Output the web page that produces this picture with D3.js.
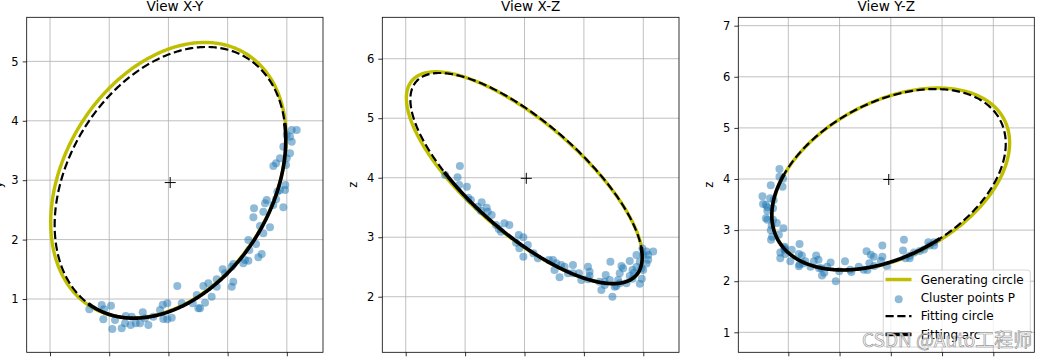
<!DOCTYPE html>
<html><head><meta charset="utf-8">
<script src="https://cdn.jsdelivr.net/npm/d3@7"></script>
<style>body{margin:0;background:#fff} svg{display:block;font-family:"DejaVu Sans",sans-serif}</style>
</head><body>
<svg id="c" width="1042" height="359"></svg>
<script>
// ---------- data ----------
const titles = ["View X-Y", "View X-Z", "View Y-Z"];
const axisLabels = ["y", "z", "z"];
const xTicks = [1, 2, 3, 4, 5];
const yTicks1 = [1, 2, 3, 4, 5];
const yTicks2 = [2, 3, 4, 5, 6];
const yTicks3 = [1, 2, 3, 4, 5, 6, 7];
const legendLabels = ["Generating circle", "Cluster points P", "Fitting circle", "Fitting arc"];
const watermark = "CSDN @Auto工程师";

// generating circle (3D): centre, radius, normal
const genCenter = [3.0, 3.0, 4.0];
const genRadius = 2.5;
const genNormal = [0.606, -0.374, 0.702];
// fitted circle (3D)
const fitCenter = [3.03, 2.96, 3.99];
const fitRadius = 2.465;
const fitNormal = [0.61, -0.377, 0.695];
// fitted arc: start, a point inside the arc, end
const arcStart = [1.62, 0.92, 4.07];
const arcMid = [3.0, 0.68, 2.9];
const arcEnd = [4.97, 3.98, 2.80];

// cluster points P (3D)
const pointsX = [1.664,1.873,1.900,1.912,2.030,2.052,2.098,2.211,2.267,2.279,2.363,2.380,2.448,2.520,2.566,2.605,2.661,2.745,2.858,2.904,2.914,2.981,2.981,3.056,3.150,3.225,3.410,3.478,3.505,3.534,3.590,3.618,3.674,3.731,3.816,3.816,3.917,3.956,4.069,4.069,4.096,4.096,4.265,4.294,4.350,4.350,4.367,4.435,4.446,4.480,4.519,4.547,4.576,4.603,4.603,4.632,4.660,4.716,4.772,4.772,4.818,4.818,4.840,4.885,4.885,4.941,4.941,4.970,4.975,4.986,4.998,4.998,5.054,5.054,5.083,5.083,5.167];
const pointsY = [0.827,0.899,0.658,0.827,0.887,0.495,0.646,0.507,0.591,0.714,0.562,0.702,0.591,0.591,0.776,0.675,0.562,0.702,0.815,0.904,0.663,0.928,0.658,0.685,1.219,0.928,0.928,1.067,0.843,0.843,1.219,0.938,1.264,1.039,1.332,1.207,1.500,1.433,1.544,1.207,1.589,1.291,1.601,1.657,1.645,1.993,1.825,2.375,2.527,1.926,1.702,2.229,1.758,2.106,2.470,2.611,2.667,2.207,2.582,3.239,2.678,3.285,2.806,2.835,3.369,2.544,3.564,2.835,2.919,3.256,3.369,3.761,3.453,3.732,3.648,3.845,3.845];
const pointsZ = [4.045,4.007,3.877,4.197,3.849,3.664,3.625,3.513,3.445,3.587,3.496,3.429,3.373,3.205,3.138,3.092,3.234,3.205,2.908,3.037,2.813,2.672,2.998,2.869,2.729,2.645,2.617,2.617,2.449,2.561,2.326,2.533,2.504,2.393,2.393,2.533,2.393,2.281,2.504,2.292,2.420,2.348,2.252,2.113,2.252,2.197,2.365,2.281,2.588,2.000,2.168,2.180,2.281,2.393,2.225,2.516,2.477,2.225,2.350,2.600,2.300,2.450,2.400,2.700,2.500,2.220,2.590,2.480,2.300,2.810,2.450,2.700,2.560,2.760,2.620,2.700,2.760];

// view limits (data units)
const xDomains = [[0.606, 5.611], [0.606, 5.601], [0.024, 5.800]];
const yDomains = [[0.103, 5.742], [1.066, 6.696], [0.609, 7.164]];
const yTickSets = [yTicks1, yTicks2, yTicks3];

// ---------- geometry helpers ----------
const sub = (a, b) => a.map((v, i) => v - b[i]);
const dot = (a, b) => a[0]*b[0] + a[1]*b[1] + a[2]*b[2];
const cross = (a, b) => [a[1]*b[2]-a[2]*b[1], a[2]*b[0]-a[0]*b[2], a[0]*b[1]-a[1]*b[0]];
const norm = a => { const l = Math.hypot(...a); return a.map(v => v / l); };
function basis(n) {
  n = norm(n);
  const u = norm(cross(n, [0, 0, 1]));
  const v = cross(n, u);
  return [u, v];
}
function circlePts(c, r, n, t0, t1, N) {
  const [u, v] = basis(n);
  return d3.range(N + 1).map(i => {
    const t = t0 + (t1 - t0) * i / N;
    return [0, 1, 2].map(k => c[k] + r * (u[k] * Math.cos(t) + v[k] * Math.sin(t)));
  });
}
function angleOf(p, c, n) {
  const [u, v] = basis(n);
  const d = sub(p, c);
  return Math.atan2(dot(d, v), dot(d, u));
}
const TAU = 2 * Math.PI;
const mod = a => ((a % TAU) + TAU) % TAU;
const genPts = circlePts(genCenter, genRadius, genNormal, 0, TAU, 500);
const fitPts = circlePts(fitCenter, fitRadius, fitNormal, 0, TAU, 500);
const ts = angleOf(arcStart, fitCenter, fitNormal);
const tm = angleOf(arcMid, fitCenter, fitNormal);
const te = angleOf(arcEnd, fitCenter, fitNormal);
const d1 = mod(te - ts), dm = mod(tm - ts);
const arcPts = dm < d1 ? circlePts(fitCenter, fitRadius, fitNormal, ts, ts + d1, 300)
                       : circlePts(fitCenter, fitRadius, fitNormal, ts, ts - (TAU - d1), 300);
const cloud = pointsX.map((x, i) => [x, pointsY[i], pointsZ[i]]);

// ---------- layout ----------
const svg = d3.select("#c");
const panels = [
  {left: 26.7, right: 323.0},
  {left: 382.3, right: 679.0},
  {left: 738.3, right: 1034.3}
];
const plotTop = 17.3, plotBottom = 352.3;
const views = [[0, 1], [0, 2], [1, 2]];
const yellow = "#bfbf00";
const blue = "#1f77b4";

panels.forEach((p, k) => {
  const [ia, ib] = views[k];
  const x = d3.scaleLinear().domain(xDomains[k]).range([p.left, p.right]);
  const y = d3.scaleLinear().domain(yDomains[k]).range([plotBottom, plotTop]);
  const g = svg.append("g");
  const clipId = "clip" + k;
  svg.append("clipPath").attr("id", clipId).append("rect")
    .attr("x", p.left).attr("y", plotTop).attr("width", p.right - p.left).attr("height", plotBottom - plotTop);

  // grid
  g.append("g").selectAll("line").data(xTicks).join("line")
    .attr("x1", d => x(d)).attr("x2", d => x(d)).attr("y1", plotTop).attr("y2", plotBottom)
    .attr("stroke", "#b0b0b0").attr("stroke-width", 0.8);
  g.append("g").selectAll("line").data(yTickSets[k]).join("line")
    .attr("x1", p.left).attr("x2", p.right).attr("y1", d => y(d)).attr("y2", d => y(d))
    .attr("stroke", "#b0b0b0").attr("stroke-width", 0.8);

  const plot = g.append("g").attr("clip-path", `url(#${clipId})`);
  const line = d3.line().x(d => x(d[ia])).y(d => y(d[ib]));

  plot.append("path").attr("d", line(genPts)).attr("fill", "none")
    .attr("stroke", yellow).attr("stroke-width", 3.4);
  plot.append("g").selectAll("circle").data(cloud).join("circle")
    .attr("cx", d => x(d[ia])).attr("cy", d => y(d[ib])).attr("r", 4)
    .attr("fill", blue).attr("fill-opacity", 0.5);
  plot.append("path").attr("d", line(fitPts)).attr("fill", "none")
    .attr("stroke", "#000").attr("stroke-width", 2.2).attr("stroke-dasharray", "8.2,3.6");
  plot.append("path").attr("d", line(arcPts)).attr("fill", "none")
    .attr("stroke", "#000").attr("stroke-width", 3.6).attr("stroke-linecap", "butt");
  // centre marker
  const cx = x(fitCenter[ia]), cy = y(fitCenter[ib]);
  plot.append("path").attr("d", `M${cx-5.5},${cy}H${cx+5.5}M${cx},${cy-5.5}V${cy+5.5}`)
    .attr("stroke", "#000").attr("stroke-width", 1);

  // axes (x tick labels fall below the cropped bottom edge, so only marks remain)
  const ax = g.append("g").attr("transform", `translate(0,${plotBottom})`)
    .call(d3.axisBottom(x).tickValues(xTicks).tickSize(4).tickFormat(""));
  const ay = g.append("g").attr("transform", `translate(${p.left},0)`)
    .call(d3.axisLeft(y).tickValues(yTickSets[k]).tickSize(4).tickPadding(4).tickFormat(d3.format("d")));
  [ax, ay].forEach(a => {
    a.select(".domain").remove();
    a.selectAll("line").attr("stroke", "#000").attr("stroke-width", 0.8);
    a.selectAll("text").attr("font-size", 11.5).attr("fill", "#000").attr("font-family", "DejaVu Sans");
  });
  g.append("rect").attr("x", p.left).attr("y", plotTop).attr("width", p.right - p.left)
    .attr("height", plotBottom - plotTop).attr("fill", "none").attr("stroke", "#000").attr("stroke-width", 0.8);

  // title
  g.append("text").attr("x", (p.left + p.right) / 2).attr("y", 11.4)
    .attr("text-anchor", "middle").attr("font-size", 13.6).text(titles[k]);
  // y label
  g.append("text").attr("transform", `translate(${p.left - 25},${(plotTop + plotBottom) / 2}) rotate(-90)`)
    .attr("text-anchor", "middle").attr("font-size", 11.5).text(axisLabels[k]);
});

// ---------- legend (panel 3) ----------
const lg = svg.append("g");
const lx = 883.3, ly = 270, lw = 147, lh = 77;
lg.append("rect").attr("x", lx).attr("y", ly).attr("width", lw).attr("height", lh)
  .attr("rx", 3).attr("fill", "#fff").attr("fill-opacity", 0.8)
  .attr("stroke", "#cccccc").attr("stroke-width", 0.8);
const rowY = i => 279.5 + i * 18.3;
legendLabels.forEach((lab, i) => {
  const yy = rowY(i);
  if (i === 0) lg.append("line").attr("x1", 885.5).attr("x2", 911.5).attr("y1", yy).attr("y2", yy)
    .attr("stroke", yellow).attr("stroke-width", 3.4);
  if (i === 1) lg.append("circle").attr("cx", 898.7).attr("cy", yy + 1.5).attr("r", 4)
    .attr("fill", blue).attr("fill-opacity", 0.5);
  if (i === 2) lg.append("line").attr("x1", 885.5).attr("x2", 911.5).attr("y1", yy).attr("y2", yy)
    .attr("stroke", "#000").attr("stroke-width", 2.2).attr("stroke-dasharray", "8.2,3.6");
  if (i === 3) lg.append("line").attr("x1", 885.5).attr("x2", 911.5).attr("y1", yy).attr("y2", yy)
    .attr("stroke", "#000").attr("stroke-width", 3.6);
  lg.append("text").attr("x", 920.7).attr("y", yy + 4.3).attr("font-size", 12).text(lab);
});

// ---------- watermark ----------
svg.append("text").attr("x", 862).attr("y", 346.5)
  .attr("font-family", "Noto Sans CJK SC").attr("font-size", 19)
  .attr("fill", "#ffffff").attr("fill-opacity", 0.85)
  .attr("stroke", "#7a7a7a").attr("stroke-width", 0.7).attr("stroke-opacity", 0.8)
  .text(watermark);
</script>
</body></html>
